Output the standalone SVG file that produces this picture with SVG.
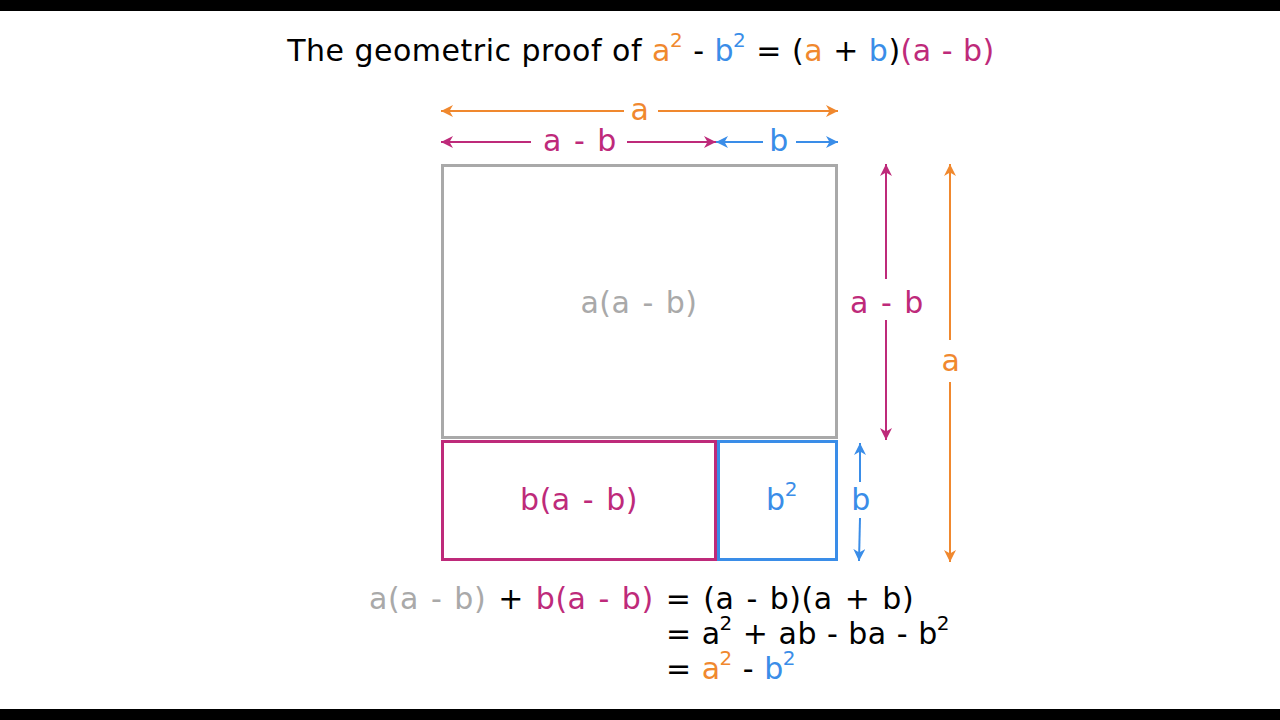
<svg xmlns="http://www.w3.org/2000/svg" width="1280" height="720" viewBox="0 0 1280 720">
<defs>
<style>
text{font-family:"DejaVu Sans","Liberation Sans",sans-serif;letter-spacing:0.5px;word-spacing:2px;}
.t{font-size:30px;fill:#000;}
.nw{word-spacing:0;}
.o{fill:#F0882E;} .bl{fill:#3A8DE8;} .m{fill:#BE2A7A;} .g{fill:#A9A9A9;} .k{fill:#000;}
.sup{font-size:20px;}
.lo{stroke:#F0882E;stroke-width:2;fill:none;}
.lm{stroke:#BE2A7A;stroke-width:2;fill:none;}
.lb{stroke:#3A8DE8;stroke-width:2;fill:none;}
</style>
<marker id="ao" viewBox="0 0 12 12" refX="12" refY="6" markerWidth="12" markerHeight="12" orient="auto-start-reverse" markerUnits="userSpaceOnUse"><path d="M0,0 L12,6 L0,12 L3.5,6 Z" fill="#F0882E"/></marker>
<marker id="am" viewBox="0 0 12 12" refX="12" refY="6" markerWidth="12" markerHeight="12" orient="auto-start-reverse" markerUnits="userSpaceOnUse"><path d="M0,0 L12,6 L0,12 L3.5,6 Z" fill="#BE2A7A"/></marker>
<marker id="ab" viewBox="0 0 12 12" refX="12" refY="6" markerWidth="12" markerHeight="12" orient="auto-start-reverse" markerUnits="userSpaceOnUse"><path d="M0,0 L12,6 L0,12 L3.5,6 Z" fill="#3A8DE8"/></marker>
</defs>
<rect width="1280" height="720" fill="#fff"/>
<rect x="0" y="0" width="1280" height="11" fill="#000"/>
<rect x="0" y="709" width="1280" height="11" fill="#000"/>

<g id="title">
<text class="t nw" x="641" y="61" text-anchor="middle">The geometric proof of <tspan class="o">a</tspan><tspan class="o sup" dx="-1" dy="-14">2</tspan><tspan dy="14"> - </tspan><tspan class="bl">b</tspan><tspan class="bl sup" dx="-1" dy="-14">2</tspan><tspan dy="14"> = (</tspan><tspan class="o">a</tspan> + <tspan class="bl">b</tspan>)<tspan class="m">(a - b)</tspan></text>
</g>

<g id="rect-aab">
<rect x="442.5" y="165.5" width="394" height="272" fill="none" stroke="#A9A9A9" stroke-width="3"/>
<text class="t g" x="639" y="313" text-anchor="middle">a(a - b)</text>
</g>
<g id="rect-bab">
<rect x="442.5" y="441.5" width="273" height="118" fill="none" stroke="#BE2A7A" stroke-width="3"/>
<text class="t m" x="579" y="510" text-anchor="middle">b(a - b)</text>
</g>
<g id="rect-b2">
<rect x="718.5" y="441.5" width="118" height="118" fill="none" stroke="#3A8DE8" stroke-width="3"/>
<text class="t bl" x="782" y="510" text-anchor="middle">b<tspan class="sup" dx="-1" dy="-14">2</tspan></text>
</g>

<g id="connectors">
<line class="lo" x1="441" y1="111" x2="624" y2="111" marker-start="url(#ao)"/>
<line class="lo" x1="658" y1="111" x2="838" y2="111" marker-end="url(#ao)"/>
<line class="lm" x1="441" y1="142" x2="531" y2="142" marker-start="url(#am)"/>
<line class="lm" x1="627" y1="142" x2="716" y2="142" marker-end="url(#am)"/>
<line class="lb" x1="716" y1="142" x2="763" y2="142" marker-start="url(#ab)"/>
<line class="lb" x1="796" y1="142" x2="838" y2="142" marker-end="url(#ab)"/>
<line class="lm" x1="886" y1="164" x2="886" y2="279" marker-start="url(#am)"/>
<line class="lm" x1="886" y1="320" x2="886" y2="440" marker-end="url(#am)"/>
<line class="lb" x1="860" y1="443" x2="860" y2="482" marker-start="url(#ab)"/>
<line class="lb" x1="860" y1="518" x2="859" y2="561" marker-end="url(#ab)"/>
<line class="lo" x1="950" y1="164" x2="950" y2="340" marker-start="url(#ao)"/>
<line class="lo" x1="950" y1="382" x2="950" y2="562" marker-end="url(#ao)"/>
</g>

<g id="dim-labels">
<text class="t o" x="640" y="120" text-anchor="middle">a</text>
<text class="t m" x="580" y="151" text-anchor="middle">a - b</text>
<text class="t bl" x="779" y="151" text-anchor="middle">b</text>
<text class="t m" x="887" y="313" text-anchor="middle">a - b</text>
<text class="t bl" x="861" y="510" text-anchor="middle">b</text>
<text class="t o" x="951" y="371" text-anchor="middle">a</text>
</g>

<g id="equation">
<text class="t" x="369" y="609"><tspan class="g">a(a - b)</tspan> + <tspan class="m">b(a - b)</tspan> = (a - b)(a + b)</text>
<text class="t nw" x="666" y="644">= a<tspan class="sup" dx="-1" dy="-14">2</tspan><tspan dy="14"> + ab - ba - b</tspan><tspan class="sup" dx="-1" dy="-14">2</tspan></text>
<text class="t nw" x="666" y="679">= <tspan class="o">a</tspan><tspan class="o sup" dx="-1" dy="-14">2</tspan><tspan dy="14"> - </tspan><tspan class="bl">b</tspan><tspan class="bl sup" dx="-1" dy="-14">2</tspan></text>
</g>
</svg>
